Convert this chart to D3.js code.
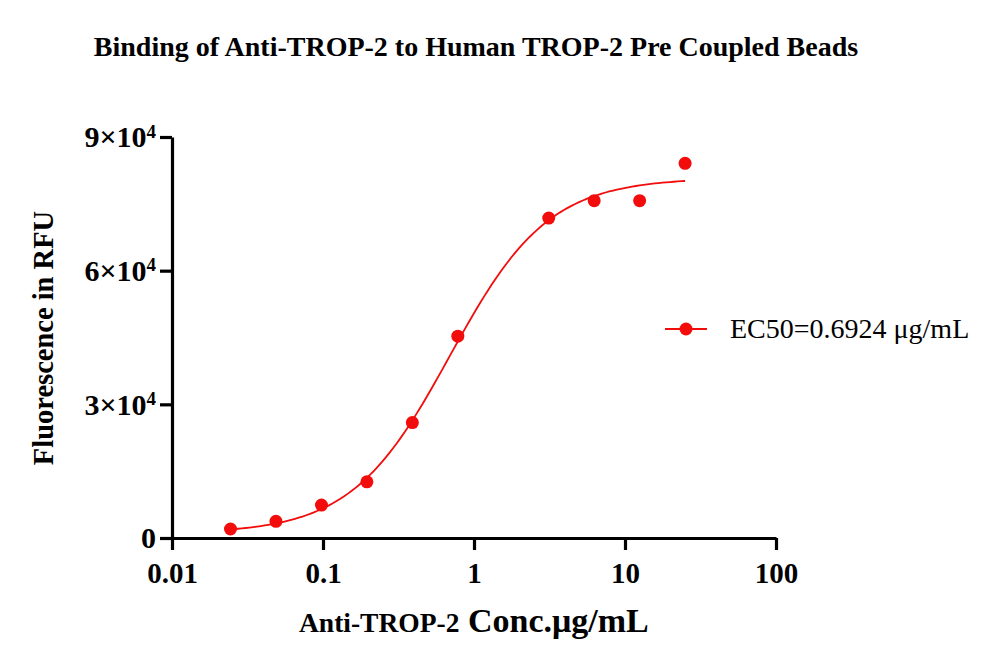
<!DOCTYPE html>
<html>
<head>
<meta charset="utf-8">
<script src="https://cdn.jsdelivr.net/npm/d3@7"></script>
<style>
  body { margin: 0; background: #fff; }
  text { font-family: "Liberation Serif", "Times New Roman", serif; }
</style>
</head>
<body>
<div id="chart"></div>
<script>
// measured points
const conc = [0.0244, 0.0488, 0.0977, 0.1953, 0.3906, 0.7813, 3.125, 6.25, 12.5, 25];
const rfu = [2020, 3750, 7400, 12600, 25900, 45300, 71800, 75700, 75700, 84100];

// 4PL fit (EC50 from legend)
const fitBottom = 1000;
const fitTop = 80800;
const fitEC50 = 0.6924;
const fitHill = 1.33;

const xTicks = [0.01, 0.1, 1, 10, 100];
const xTickLabels = ["0.01", "0.1", "1", "10", "100"];
const yTicks = [0, 30000, 60000, 90000];
const yTickLabels = [["0", ""], ["3×10", "4"], ["6×10", "4"], ["9×10", "4"]];

const W = 1000, H = 669;
const margin = {top: 137, right: 224, bottom: 131, left: 172};
const w = W - margin.left - margin.right,
      h = H - margin.top - margin.bottom;

const svg = d3.select("#chart").append("svg")
    .attr("width", W)
    .attr("height", H);

const g = svg.append("g")
    .attr("transform", "translate(" + margin.left + "," + margin.top + ")");

const x = d3.scaleLog().domain([0.01, 100]).range([0, w]);
const y = d3.scaleLinear().domain([0, 90000]).range([h, 0]);

const red = "#f20c0c";

// fitted curve
const fit = c => fitBottom + (fitTop - fitBottom) / (1 + Math.pow(fitEC50 / c, fitHill));
const curveX = d3.range(0, 121).map(i => conc[0] * Math.pow(conc[conc.length - 1] / conc[0], i / 120));

g.append("path")
    .datum(curveX)
    .attr("fill", "none")
    .attr("stroke", red)
    .attr("stroke-width", 1.8)
    .attr("d", d3.line().x(d => x(d)).y(d => y(fit(d))));

g.selectAll(".dot")
    .data(conc)
  .enter().append("circle")
    .attr("class", "dot")
    .attr("cx", d => x(d))
    .attr("cy", (d, i) => y(rfu[i]))
    .attr("r", 6.5)
    .attr("fill", red);

// x axis
const xAxis = g.append("g")
    .attr("transform", "translate(0," + h + ")")
    .call(d3.axisBottom(x).tickValues(xTicks).tickFormat((d, i) => xTickLabels[i]).tickSize(12).tickSizeOuter(0));
xAxis.select(".domain").attr("stroke", "#000").attr("stroke-width", 3.2);
xAxis.selectAll(".tick line").attr("stroke", "#000").attr("stroke-width", 3.2);
xAxis.selectAll(".tick text")
    .attr("y", 45)
    .attr("dy", 0)
    .style("font-family", "Liberation Serif")
    .style("font-weight", "bold")
    .style("font-size", "29px")
    .attr("fill", "#000");

// y axis
const yAxis = g.append("g")
    .call(d3.axisLeft(y).tickValues(yTicks).tickFormat("").tickSize(12).tickSizeOuter(0));
yAxis.select(".domain").attr("stroke", "#000").attr("stroke-width", 3.2);
yAxis.selectAll(".tick line").attr("stroke", "#000").attr("stroke-width", 3.2);

const yLab = g.selectAll(".ylab")
    .data(yTicks)
  .enter().append("text")
    .attr("class", "ylab")
    .attr("x", -16)
    .attr("y", d => y(d))
    .attr("dy", "0.34em")
    .attr("text-anchor", "end")
    .style("font-weight", "bold")
    .style("font-size", "30px");
yLab.append("tspan").text((d, i) => yTickLabels[i][0]);
yLab.append("tspan")
    .attr("dy", "-0.5em")
    .style("font-size", "19px")
    .text((d, i) => yTickLabels[i][1]);

// title
svg.append("text")
    .attr("x", 476)
    .attr("y", 56)
    .attr("text-anchor", "middle")
    .style("font-weight", "bold")
    .style("font-size", "28px")
    .text("Binding of Anti-TROP-2 to Human TROP-2 Pre Coupled Beads");

// x title
svg.append("text")
    .attr("x", 299)
    .attr("y", 632)
    .style("font-weight", "bold")
    .style("font-size", "27.5px")
    .text("Anti-TROP-2");
svg.append("text")
    .attr("x", 468)
    .attr("y", 632)
    .style("font-weight", "bold")
    .style("font-size", "34px")
    .text("Conc.μg/mL");

// y title
svg.append("text")
    .attr("transform", "translate(53,338) rotate(-90)")
    .attr("text-anchor", "middle")
    .style("font-weight", "bold")
    .style("font-size", "28.5px")
    .text("Fluorescence in RFU");

// legend
const leg = svg.append("g").attr("transform", "translate(665,329)");
leg.append("line")
    .attr("x1", 0).attr("x2", 42)
    .attr("stroke", red).attr("stroke-width", 1.8);
leg.append("circle").attr("cx", 21).attr("r", 6.5).attr("fill", red);
leg.append("text")
    .attr("x", 65)
    .attr("y", 9)
    .style("font-size", "28px")
    .text("EC50=0.6924 μg/mL");
</script>
</body>
</html>
